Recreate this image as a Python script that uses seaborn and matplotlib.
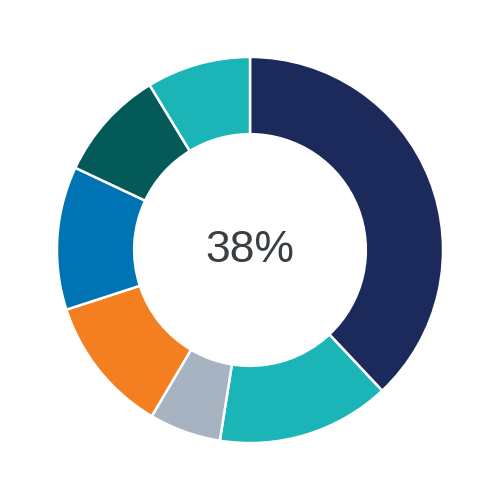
import matplotlib
matplotlib.use("Agg")
import matplotlib.pyplot as plt
import seaborn as sns

# segment shares, clockwise from 12 o'clock
segments = ["A", "B", "C", "D", "E", "F", "G"]
shares = [38, 14.5, 6, 11.5, 12, 9.3, 8.7]
colors = ["#1c2a5b", "#1bb5b7", "#a8b3c1", "#f37f20", "#0073b5", "#035a59", "#1bb5b7"]
center_label = "38%"

sns.set_theme(style="white")
plt.rcParams['font.family'] = ['Liberation Sans', 'DejaVu Sans']

fig = plt.figure(figsize=(5, 5), dpi=100)
ax = fig.add_axes([0, 0, 1, 1])
ax.pie(shares, colors=sns.color_palette(colors), startangle=90, counterclock=False,
       radius=1.0, wedgeprops=dict(width=0.4, edgecolor="white", linewidth=1.8))
ax.text(0, 0, center_label, ha="center", va="center", fontsize=32, color="#3a3f44")
ax.set_xlim(-1.295, 1.295)
ax.set_ylim(-1.295, 1.295)
ax.set_aspect("equal")
ax.axis("off")

fig.savefig("out.png", dpi=100, facecolor="white")
